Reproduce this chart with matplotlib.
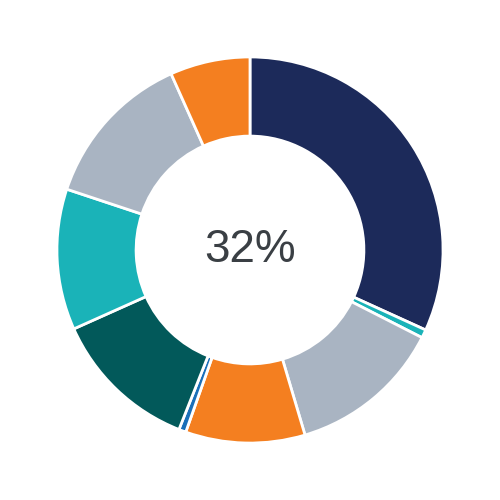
import matplotlib
matplotlib.use('Agg')
import matplotlib.pyplot as plt

# clockwise from 12 o'clock
shares = [31.8, 0.7, 12.9, 10.0, 0.6, 12.3, 11.8, 13.2, 6.7]
colors = ['#1c2a5a', '#1ab3b8', '#a9b4c2', '#f47f20', '#1a6fb8',
          '#02595a', '#1ab3b8', '#a9b4c2', '#f47f20']
center_label = '32%'

fig = plt.figure(figsize=(5, 5), dpi=100)
ax = fig.add_axes([0, 0, 1, 1])
ax.pie(shares, colors=colors, startangle=90, counterclock=False,
       radius=1.0,
       wedgeprops=dict(width=0.41, edgecolor='white', linewidth=2))
ax.text(0, 0.0, center_label, ha='center', va='center', fontsize=33,
        color='#3a3f44', family=['Liberation Sans', 'DejaVu Sans'])
ax.set_xlim(-1.295, 1.295)
ax.set_ylim(-1.295, 1.295)
ax.set_aspect('equal')
ax.axis('off')
fig.savefig('out.png', dpi=100, facecolor='white')
